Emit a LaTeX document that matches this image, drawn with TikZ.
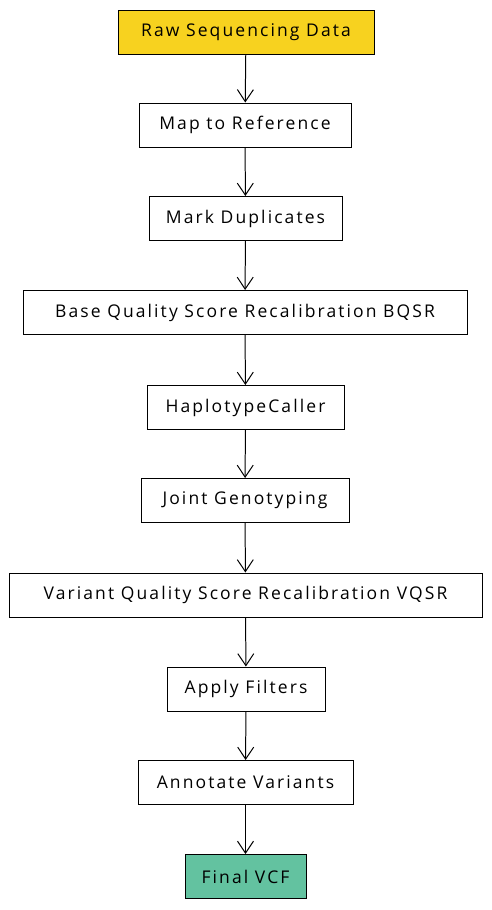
\documentclass[tikz,border=0pt]{standalone}
\usepackage{fontspec}
\setmainfont{Open Sans}[LetterSpace=12]
\usepackage{xcolor}
\usetikzlibrary{arrows.meta}
\definecolor{rawYellow}{HTML}{F7D21F}
\definecolor{vcfGreen}{HTML}{63C2A0}

\begin{document}
\begin{tikzpicture}
[x=1pt,y=1pt,
 lineDecorate/.style={-{Straight Barb[length=12pt,width=16pt]},line width=0.35mm},
 nodeDecorate/.style={shape=rectangle,draw,line width=0.35mm,inner sep=0pt,minimum height=44pt,font=\fontsize{17.5}{20}\selectfont}]

 \useasboundingbox (0,0) rectangle (492,-910);

 \node (S0) at (246,-32) [nodeDecorate, fill=rawYellow, minimum width=256pt] {Raw Sequencing Data};
 \node (S1) at (245,-125) [nodeDecorate, minimum width=212pt] {Map to Reference};
 \node (S2) at (245.5,-218.5) [nodeDecorate, minimum width=193pt] {Mark Duplicates};
 \node (S3) at (245,-312.5) [nodeDecorate, minimum width=444pt] {Base Quality Score Recalibration BQSR};
 \node (S4) at (245.5,-407.5) [nodeDecorate, minimum width=197pt] {HaplotypeCaller};
 \node (S5) at (245,-500.5) [nodeDecorate, minimum width=208pt] {Joint Genotyping};
 \node (S6) at (245.5,-595) [nodeDecorate, minimum width=473pt] {Variant Quality Score Recalibration VQSR};
 \node (S7) at (246,-689) [nodeDecorate, minimum width=158pt] {Apply Filters};
 \node (S8) at (245.5,-782.5) [nodeDecorate, minimum width=215pt] {Annotate Variants};
 \node (S9) at (245.5,-876.5) [nodeDecorate, fill=vcfGreen, minimum width=121pt] {Final VCF};

 \foreach \i [count=\j] in {0,1,2,3,4,5,6,7,8}
 {
          \draw[lineDecorate] (S\i) -- (S\j);
 }
\end{tikzpicture}
\end{document}
